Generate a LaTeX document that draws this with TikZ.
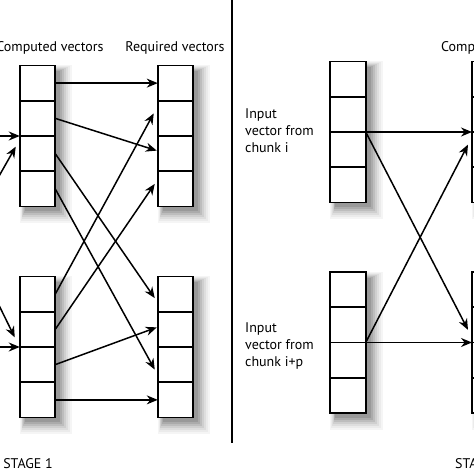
\documentclass[tikz,border=0pt]{standalone}
\usepackage{fontspec}
\setmainfont{PT Sans}
\usepackage{tikz}
\usetikzlibrary{positioning,calc,arrows.meta}

\begin{document}
\begin{tikzpicture}[
    x=1pt, y=1pt,
    vecbox/.style={rectangle, fill=white, minimum width=35.5pt, minimum height=141pt, inner sep=0pt, outer sep=0pt},
    cell/.style={rectangle, draw, line width=1.8pt, fill=white, minimum width=35.5pt, minimum height=35.25pt, inner sep=0pt, outer sep=0pt},
    link/.style={-{Stealth[length=11pt,width=9pt]}, line width=1.5pt},
    lbl/.style={inner sep=0pt, font=\fontsize{14}{17}\selectfont, align=left}
]
\useasboundingbox (0,0) rectangle (474,474);
\clip (0,0) rectangle (474,474);

% the eight vectors, four cells each, with a soft shadow
\foreach \v/\x/\y in {a/37.5/338, b/37.5/127, r/175.5/338, s/175.5/127,
                      p/348/342, q/348/131.5, c/489.75/342, d/489.75/131.5} {
    \foreach \e/\g in {12/4,10/8,8/13,6/19,4/26,2/33,0/40}
        \fill[black!\g] (\x-12.75-0.4*\e,\y-75.5-\e) rectangle (\x+22.75+\e,\y+64.5+0.5*\e);
    \node[vecbox] (\v) at (\x,\y) {};
    \foreach \i in {1,...,4}
        \node[cell] (\v\i) at ($(\v.north)+(0,{-35.25*(\i-0.5)})$) {};
}

% headings
\node[lbl] (hComp) at (50,426) {Computed vectors};
\node[lbl] (hReq) at (175,426) {Required vectors};
\node[lbl, anchor=west] (hComp2) at (441,426) {Computed vectors};
\node[lbl, anchor=west] (inI) at (245,343) {Input\\vector from\\chunk i};
\node[lbl, anchor=west] (inIP) at (245,127.5) {Input\\vector from\\chunk i+p};
\node[lbl, anchor=east] (st1) at (53,10) {STAGE 1};
\node[lbl, anchor=west] (st2) at (455,10) {STAGE 2};

% separator
\coordinate (sepTop) at (232,474);
\coordinate (sepBot) at (232,31);
\draw[line width=2.5pt] (sepTop) -- (sepBot);

% stage 1
\coordinate (inA1) at (-10,338);
\coordinate (inA2) at (-10,282);
\coordinate (inB1) at (-10,127);
\coordinate (inB2) at (-10,187);
\draw[link] (inA1) -- (a2.south west);
\draw[link] (inA2) -- ([xshift=-4pt,yshift=7pt]a3.west);
\draw[link] (inB1) -- (b2.south west);
\draw[link] (inB2) -- ([xshift=-5pt,yshift=-8pt]b2.west);

\draw[link] (a1.east) -- (r1.west);
\draw[link] (a2.east) -- ([xshift=-1pt,yshift=3pt]r3.west);
\draw[link] (a3.east) -- ([xshift=-3pt,yshift=-4pt]s1.west);
\draw[link] (a4.east) -- ([xshift=-3pt,yshift=-5pt]s3.west);
\draw[link] (b1.east) -- ([xshift=-4pt,yshift=5pt]r2.west);
\draw[link] (b2.east) -- ([xshift=-3pt,yshift=5pt]r4.west);
\draw[link] (b3.east) -- ([xshift=-1pt,yshift=2pt]s2.west);
\draw[link] (b4.east) -- (s4.west);

% stage 2
\draw[link] (p2.south east) -- (c2.south west);
\draw[link] (p2.south east) -- ([xshift=-4pt,yshift=-5pt]d2.west);
\draw[link] (q2.south east) -- (d2.south west);
\draw[link] (q2.south east) -- ([xshift=-4pt,yshift=5pt]c3.west);
\end{tikzpicture}
\end{document}
